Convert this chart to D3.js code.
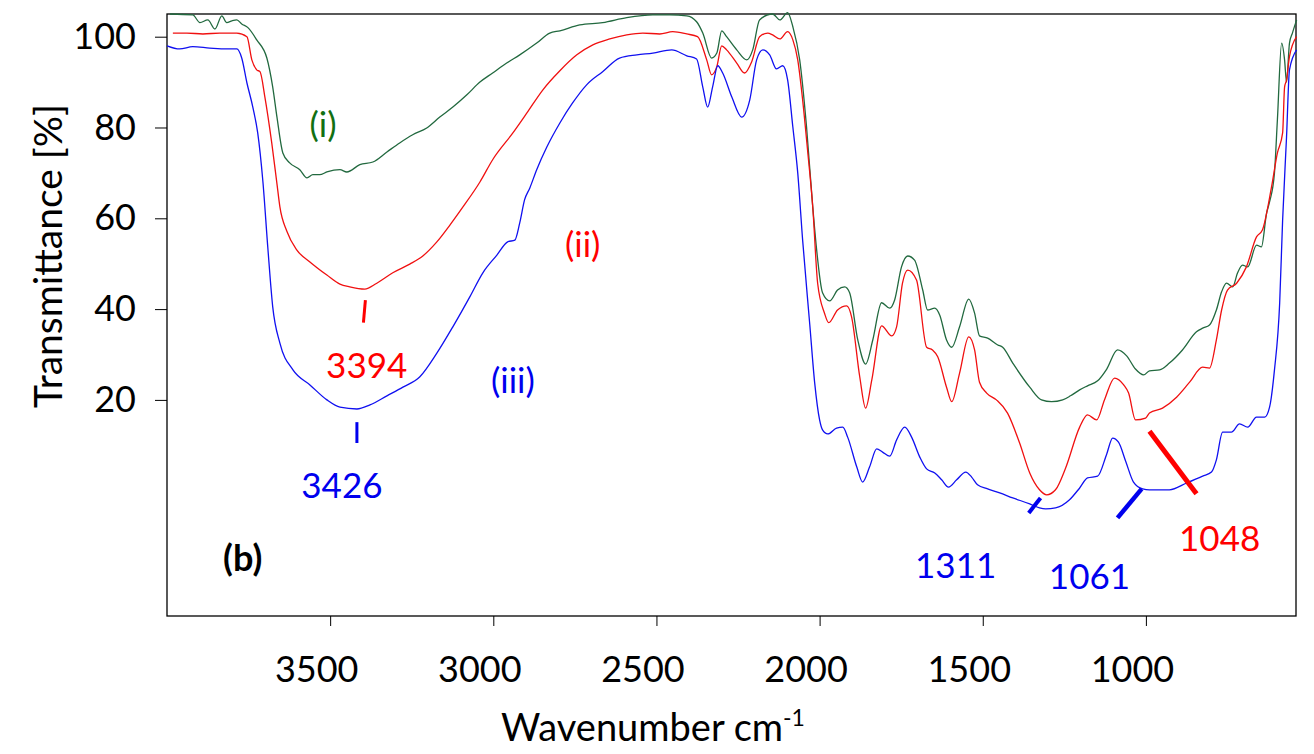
<!DOCTYPE html>
<html>
<head>
<meta charset="utf-8">
<script src="https://cdn.jsdelivr.net/npm/d3@7"></script>
<style>
body{margin:0;background:#fff;}
text{font-family:Lato,"Open Sans",sans-serif;}
.tick line{stroke:#000;}
.tick text{font-size:36px;fill:#000;}
</style>
</head>
<body>
<div id="canvas"></div>
<script>
// spectra: [wavenumber cm-1, transmittance %]
var seriesI = [[3991,105.0],[3921,104.8],[3899,103.1],[3875,103.7],[3853,101.7],[3832,104.6],[3817,103.1],[3801,103.5],[3786,103.7],[3771,102.8],[3752,102.0],[3725,99.3],[3694,95.3],[3676,88.9],[3663,82.3],[3645,74.4],[3624,72.2],[3593,70.7],[3571,68.9],[3553,69.6],[3532,69.6],[3510,70.2],[3470,70.7],[3449,70.2],[3409,71.8],[3369,72.4],[3326,74.6],[3287,76.6],[3247,78.4],[3204,79.9],[3164,82.3],[3124,84.5],[3081,87.2],[3041,90.0],[3002,92.0],[2959,94.2],[2919,96.0],[2867,98.6],[2827,100.8],[2796,101.3],[2735,102.6],[2665,103.1],[2591,104.2],[2511,104.8],[2459,104.8],[2407,104.6],[2377,103.3],[2358,100.8],[2331,95.3],[2315,96.4],[2300,101.3],[2285,100.0],[2254,97.1],[2223,94.9],[2205,97.1],[2184,103.7],[2144,105.0],[2122,103.7],[2098,105.3],[2082,102.2],[2061,94.9],[2040,80.1],[2021,62.5],[2009,53.0],[1991,43.6],[1969,41.8],[1945,44.2],[1923,44.9],[1908,43.6],[1883,33.2],[1859,27.9],[1837,33.2],[1810,41.4],[1785,40.2],[1770,42.0],[1749,49.3],[1730,51.7],[1709,50.8],[1684,44.2],[1669,39.8],[1647,40.2],[1632,38.7],[1611,33.2],[1595,31.6],[1571,36.1],[1543,42.2],[1525,39.1],[1510,34.1],[1485,33.6],[1454,32.1],[1439,31.6],[1408,28.1],[1356,22.8],[1320,20.0],[1289,19.6],[1255,20.0],[1231,20.9],[1203,22.2],[1179,23.1],[1148,24.2],[1120,26.8],[1087,31.0],[1059,29.7],[1032,26.8],[1007,25.5],[989,26.4],[958,26.6],[928,28.1],[888,31.0],[845,35.0],[826,35.8],[805,36.5],[784,39.8],[768,43.8],[753,45.7],[734,44.9],[719,48.0],[704,49.7],[688,49.3],[661,54.1],[646,53.7],[630,61.2],[621,63.6],[606,70.0],[597,81.7],[584,98.6],[575,94.9],[569,90.0],[560,98.6],[551,100.8],[538,103.7]];

var seriesII = [[3982,100.8],[3939,100.8],[3890,100.6],[3838,100.8],[3786,100.8],[3755,100.0],[3740,94.9],[3725,92.7],[3715,92.3],[3700,86.7],[3679,76.6],[3663,67.6],[3654,62.5],[3633,57.2],[3602,53.0],[3562,50.4],[3510,47.5],[3470,45.5],[3440,44.9],[3394,44.4],[3357,45.7],[3308,48.0],[3256,49.9],[3216,51.7],[3173,54.8],[3133,58.5],[3093,62.5],[3041,68.0],[3002,72.9],[2940,78.8],[2897,83.2],[2848,88.3],[2796,92.5],[2744,96.0],[2695,98.2],[2643,99.5],[2591,100.4],[2542,100.8],[2490,100.6],[2450,101.1],[2407,100.6],[2374,100.0],[2346,94.9],[2331,91.6],[2315,93.4],[2300,98.0],[2285,97.1],[2254,94.2],[2230,92.0],[2208,94.5],[2184,100.0],[2159,100.8],[2144,100.4],[2122,99.5],[2098,101.1],[2082,99.3],[2067,94.9],[2052,86.1],[2037,75.1],[2021,62.5],[2006,45.7],[1985,39.1],[1972,37.0],[1945,39.8],[1917,40.7],[1902,38.3],[1877,25.1],[1859,18.2],[1840,24.4],[1810,36.3],[1779,34.1],[1764,36.1],[1746,45.7],[1730,48.6],[1703,46.4],[1672,31.6],[1654,31.0],[1638,29.5],[1611,22.8],[1595,19.6],[1571,25.9],[1543,33.9],[1525,31.0],[1510,23.9],[1488,21.5],[1458,20.0],[1424,17.1],[1387,10.5],[1356,3.9],[1326,0.2],[1304,-0.9],[1277,0.2],[1246,5.0],[1203,14.0],[1179,16.7],[1151,15.6],[1127,20.0],[1096,24.8],[1068,23.3],[1053,21.5],[1032,15.6],[1001,16.0],[989,17.1],[949,18.2],[906,20.6],[866,23.9],[826,27.2],[805,27.0],[784,33.2],[768,39.8],[750,44.2],[722,45.7],[692,49.3],[661,55.9],[643,57.4],[615,66.9],[597,74.4],[581,78.8],[575,88.9],[569,90.5],[560,95.6],[538,100.0]];

var seriesIII = [[4000,98.0],[3961,97.3],[3921,97.8],[3869,97.5],[3817,97.3],[3786,97.3],[3771,95.3],[3755,89.8],[3737,84.5],[3722,78.8],[3706,68.0],[3691,53.5],[3676,40.5],[3654,32.5],[3614,26.6],[3562,23.3],[3510,20.0],[3470,18.4],[3418,18.0],[3378,18.9],[3326,20.9],[3277,22.8],[3225,25.1],[3173,30.3],[3124,36.1],[3072,42.7],[3032,48.0],[2989,51.9],[2956,54.8],[2934,55.2],[2919,59.0],[2904,64.1],[2888,66.7],[2867,70.7],[2836,75.7],[2796,81.0],[2757,85.4],[2714,89.4],[2665,92.3],[2613,95.3],[2560,96.0],[2511,96.4],[2453,97.1],[2407,95.8],[2377,95.1],[2358,88.9],[2343,84.5],[2328,88.9],[2312,93.6],[2297,92.0],[2269,86.7],[2239,82.3],[2214,86.1],[2193,94.9],[2174,97.1],[2153,96.0],[2132,92.9],[2113,93.6],[2098,90.5],[2082,80.1],[2067,70.0],[2052,55.2],[2030,36.5],[2015,23.7],[2000,15.6],[1991,13.4],[1975,12.5],[1948,13.8],[1929,14.0],[1914,11.8],[1886,5.2],[1868,1.9],[1847,5.2],[1825,9.2],[1807,8.5],[1785,7.6],[1764,11.2],[1739,14.0],[1718,11.8],[1693,7.4],[1672,4.8],[1647,3.9],[1626,2.4],[1605,0.8],[1580,2.4],[1552,4.1],[1534,3.0],[1516,1.3],[1485,0.4],[1448,-0.5],[1408,-1.6],[1356,-2.9],[1326,-3.8],[1307,-4.0],[1277,-3.8],[1234,-2.0],[1203,0.6],[1179,2.8],[1148,3.2],[1120,8.1],[1102,11.6],[1084,10.7],[1062,6.5],[1038,1.9],[1010,0.4],[989,0.2],[928,0.2],[875,1.7],[826,3.2],[799,4.1],[784,6.8],[765,12.9],[738,12.9],[713,14.7],[688,14.0],[661,16.2],[636,16.2],[621,18.4],[606,26.6],[590,41.4],[581,59.6],[569,77.9],[560,92.7],[538,97.1]];

var xTicks = [3500,3000,2500,2000,1500,1000];
var yTicks = [20,40,60,80,100];

// text notes and peak markers, in wavenumber / transmittance units
var notes = [
    {text:'(i)', s:'i', wn:3522, t:77.9},
    {text:'(ii)', s:'ii', wn:2726, t:51.5},
    {text:'(iii)', s:'iii', wn:2940, t:21.5},
    {text:'3394', s:'ii', wn:3388, t:24.8},
    {text:'3426', s:'iii', wn:3464, t:-1.6},
    {text:'1311', s:'iii', wn:1583, t:-19.2},
    {text:'1061', s:'iii', wn:1173, t:-21.6},
    {text:'1048', s:'ii', wn:774, t:-13.3}
];
var marks = [
    {s:'ii', from:[3398,37.0], to:[3392,42.0], sw:3},
    {s:'iii', from:[3418,10.5], to:[3418,15.1], sw:3},
    {s:'iii', from:[1359,-4.9], to:[1323,-1.6], sw:4},
    {s:'iii', from:[1087,-6.0], to:[1013,0.4], sw:4.5},
    {s:'ii', from:[989,13.1], to:[845,-0.7], sw:5}
];

var lineColor = {i:'#22693f', ii:'#f01010', iii:'#1010f0'};
var textColor = {i:'#127012', ii:'#ff0000', iii:'#0000ee'};

var m = {t:14, r:18, b:138, l:167};
var outerWidth = 1314, outerHeight = 754;
var w = outerWidth - m.l - m.r,
    h = outerHeight - m.t - m.b;

var svg = d3.select('#canvas')
    .append('svg')
    .attr('width', outerWidth)
    .attr('height', outerHeight);

var plot = svg.append('g')
    .attr('transform', 'translate(' + m.l + ',' + m.t + ')');

var scaleX = d3.scaleLinear().domain([4000, 540]).range([0, w]);
var scaleY = d3.scaleLinear().domain([-27.6, 105]).range([h, 0]);

// axes
var axisY = d3.axisLeft(scaleY).tickValues(yTicks).tickFormat(d3.format('d'))
    .tickSize(12).tickPadding(19);
plot.append('g').attr('class', 'axis y').call(axisY)
    .call(function(g){ g.select('.domain').remove(); });

var axisX = d3.axisBottom(scaleX).tickValues(xTicks).tickFormat(d3.format('d'))
    .tickSize(10).tickPadding(30);
plot.append('g').attr('class', 'axis x')
    .attr('transform', 'translate(0,' + h + ')')
    .call(axisX)
    .call(function(g){ g.select('.domain').remove(); });
// labels sit a little left of their ticks in the original
plot.selectAll('.axis.x .tick text').attr('dx', -14);

// frame
plot.append('rect')
    .attr('width', w).attr('height', h)
    .attr('fill', 'none').attr('stroke', '#000').attr('stroke-width', 1.3);

// spectra
var line = d3.line()
    .x(function(d){ return scaleX(d[0]); })
    .y(function(d){ return scaleY(d[1]); })
    .curve(d3.curveMonotoneX);

var spectra = [{s:'i', pts:seriesI}, {s:'ii', pts:seriesII}, {s:'iii', pts:seriesIII}];
plot.selectAll('path.spectrum')
    .data(spectra)
    .enter()
    .append('path')
    .attr('class', 'spectrum')
    .attr('d', function(d){ return line(d.pts); })
    .attr('fill', 'none')
    .attr('stroke', function(d){ return lineColor[d.s]; })
    .attr('stroke-width', 1.3);

// peak markers
plot.selectAll('line.mark')
    .data(marks)
    .enter()
    .append('line')
    .attr('class', 'mark')
    .attr('x1', function(d){ return scaleX(d.from[0]); })
    .attr('y1', function(d){ return scaleY(d.from[1]); })
    .attr('x2', function(d){ return scaleX(d.to[0]); })
    .attr('y2', function(d){ return scaleY(d.to[1]); })
    .attr('stroke', function(d){ return textColor[d.s]; })
    .attr('stroke-width', function(d){ return d.sw; });

plot.selectAll('text.note')
    .data(notes)
    .enter()
    .append('text')
    .attr('class', 'note')
    .attr('x', function(d){ return scaleX(d.wn); })
    .attr('y', function(d){ return scaleY(d.t); })
    .attr('text-anchor', 'middle')
    .style('font-size', '35px')
    .style('fill', function(d){ return textColor[d.s]; })
    .text(function(d){ return d.text; });

plot.append('text')
    .attr('x', scaleX(3768)).attr('y', scaleY(-17.7))
    .attr('text-anchor', 'middle')
    .style('font-size', '36px').style('font-weight', 'bold')
    .text('(b)');

// axis titles
svg.append('text')
    .attr('transform', 'translate(62,256) rotate(-90)')
    .attr('text-anchor', 'middle')
    .style('font-size', '39px')
    .text('Transmittance [%]');

var xt = svg.append('text')
    .attr('x', 653).attr('y', 741)
    .attr('text-anchor', 'middle')
    .style('font-size', '38px')
    .text('Wavenumber cm');
xt.append('tspan').attr('dy', -15).style('font-size', '23px').text('-1');
</script>
</body>
</html>
